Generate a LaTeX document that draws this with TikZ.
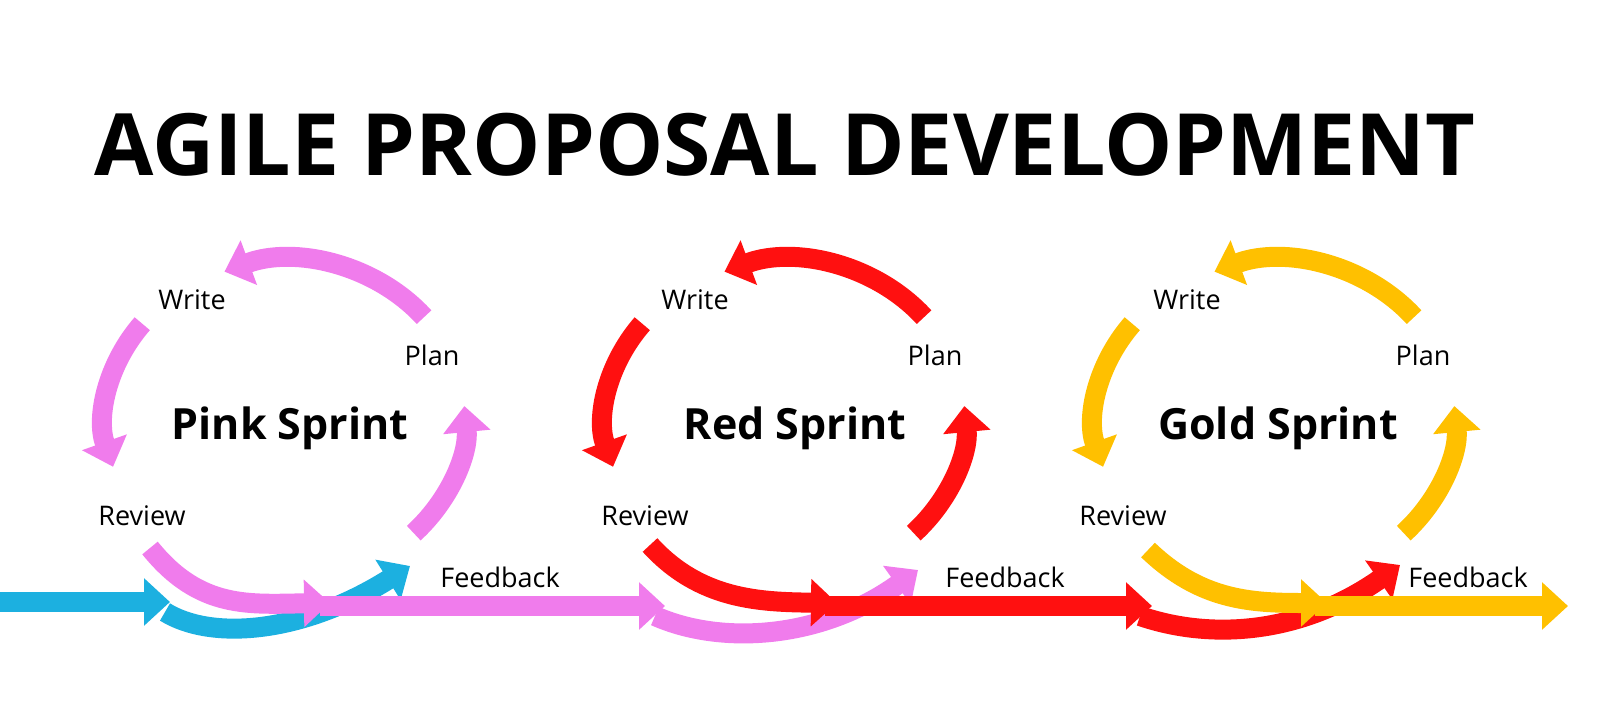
\documentclass[tikz,border=0pt]{standalone}
\usepackage{fontspec}
\setmainfont{Open Sans}
\usetikzlibrary{arrows.meta}
\definecolor{cyanA}{HTML}{1CB0E0}
\definecolor{pinkA}{HTML}{F07CEC}
\definecolor{redA}{HTML}{FF1010}
\definecolor{goldA}{HTML}{FFC000}
\tikzset{
  arr/.style={line width=20pt,draw=#1,-{Triangle[length=26pt,width=46pt,fill=#1]}},
  lbl/.style={font=\fontsize{27}{31}\selectfont},
  spr/.style={font=\bfseries\fontsize{43}{48}\selectfont},
}
\begin{document}
\begin{tikzpicture}[x=1pt,y=-1pt]
\useasboundingbox (0,0) rectangle (1600,723);
\node[font=\bfseries\fontsize{86}{92}\selectfont] (title) at (785,145) {AGILE PROPOSAL DEVELOPMENT};
% cyan incoming
\draw[arr=cyanA] (0,602) -- (170,602);
\draw[arr=cyanA] (165,612) .. controls (210,640) and (300,635) .. (410,566);
% cycles
\foreach \cx/\c/\nm/\wx/\px/\rx/\fx/\sx in {290/pinkA/Pink Sprint/192/432/142/500/290, 790/redA/Red Sprint/695/935/645/1005/795, 1280/goldA/Gold Sprint/1187/1423/1123/1468/1278}{
  \draw[arr=\c] (\cx,420) ++(-40:175 and 160) arc[start angle=-40,end angle=-112,x radius=175,y radius=160];
  \draw[arr=\c] (\cx,420) ++(-143:185 and 160) arc[start angle=-143,end angle=-197,x radius=185,y radius=160];
  \draw[arr=\c] (\cx,420) ++(45:175 and 160) arc[start angle=45,end angle=-5,x radius=175,y radius=160];
  \node[lbl] at (\wx,300) {Write};
  \node[lbl] at (\px,355) {Plan};
  \node[lbl] at (\rx,516) {Review};
  \node[lbl] at (\fx,577) {Feedback};
  \node[spr] at (\sx,428) {\nm};
}
% pink
\draw[arr=pinkA] (150,548) .. controls (200,610) and (250,604) .. (330,603);
\draw[arr=pinkA] (320,606) -- (665,606);
\draw[arr=pinkA] (655,616) .. controls (720,645) and (820,640) .. (918,570);
% red
\draw[arr=redA] (650,545) .. controls (700,600) and (760,602) .. (837,603);
\draw[arr=redA] (825,606) -- (1152,606);
\draw[arr=redA] (1140,616) .. controls (1210,640) and (1300,635) .. (1400,565);
% gold
\draw[arr=goldA] (1148,550) .. controls (1200,600) and (1250,603) .. (1327,603);
\draw[arr=goldA] (1315,606) -- (1568,606);
\end{tikzpicture}
\end{document}
